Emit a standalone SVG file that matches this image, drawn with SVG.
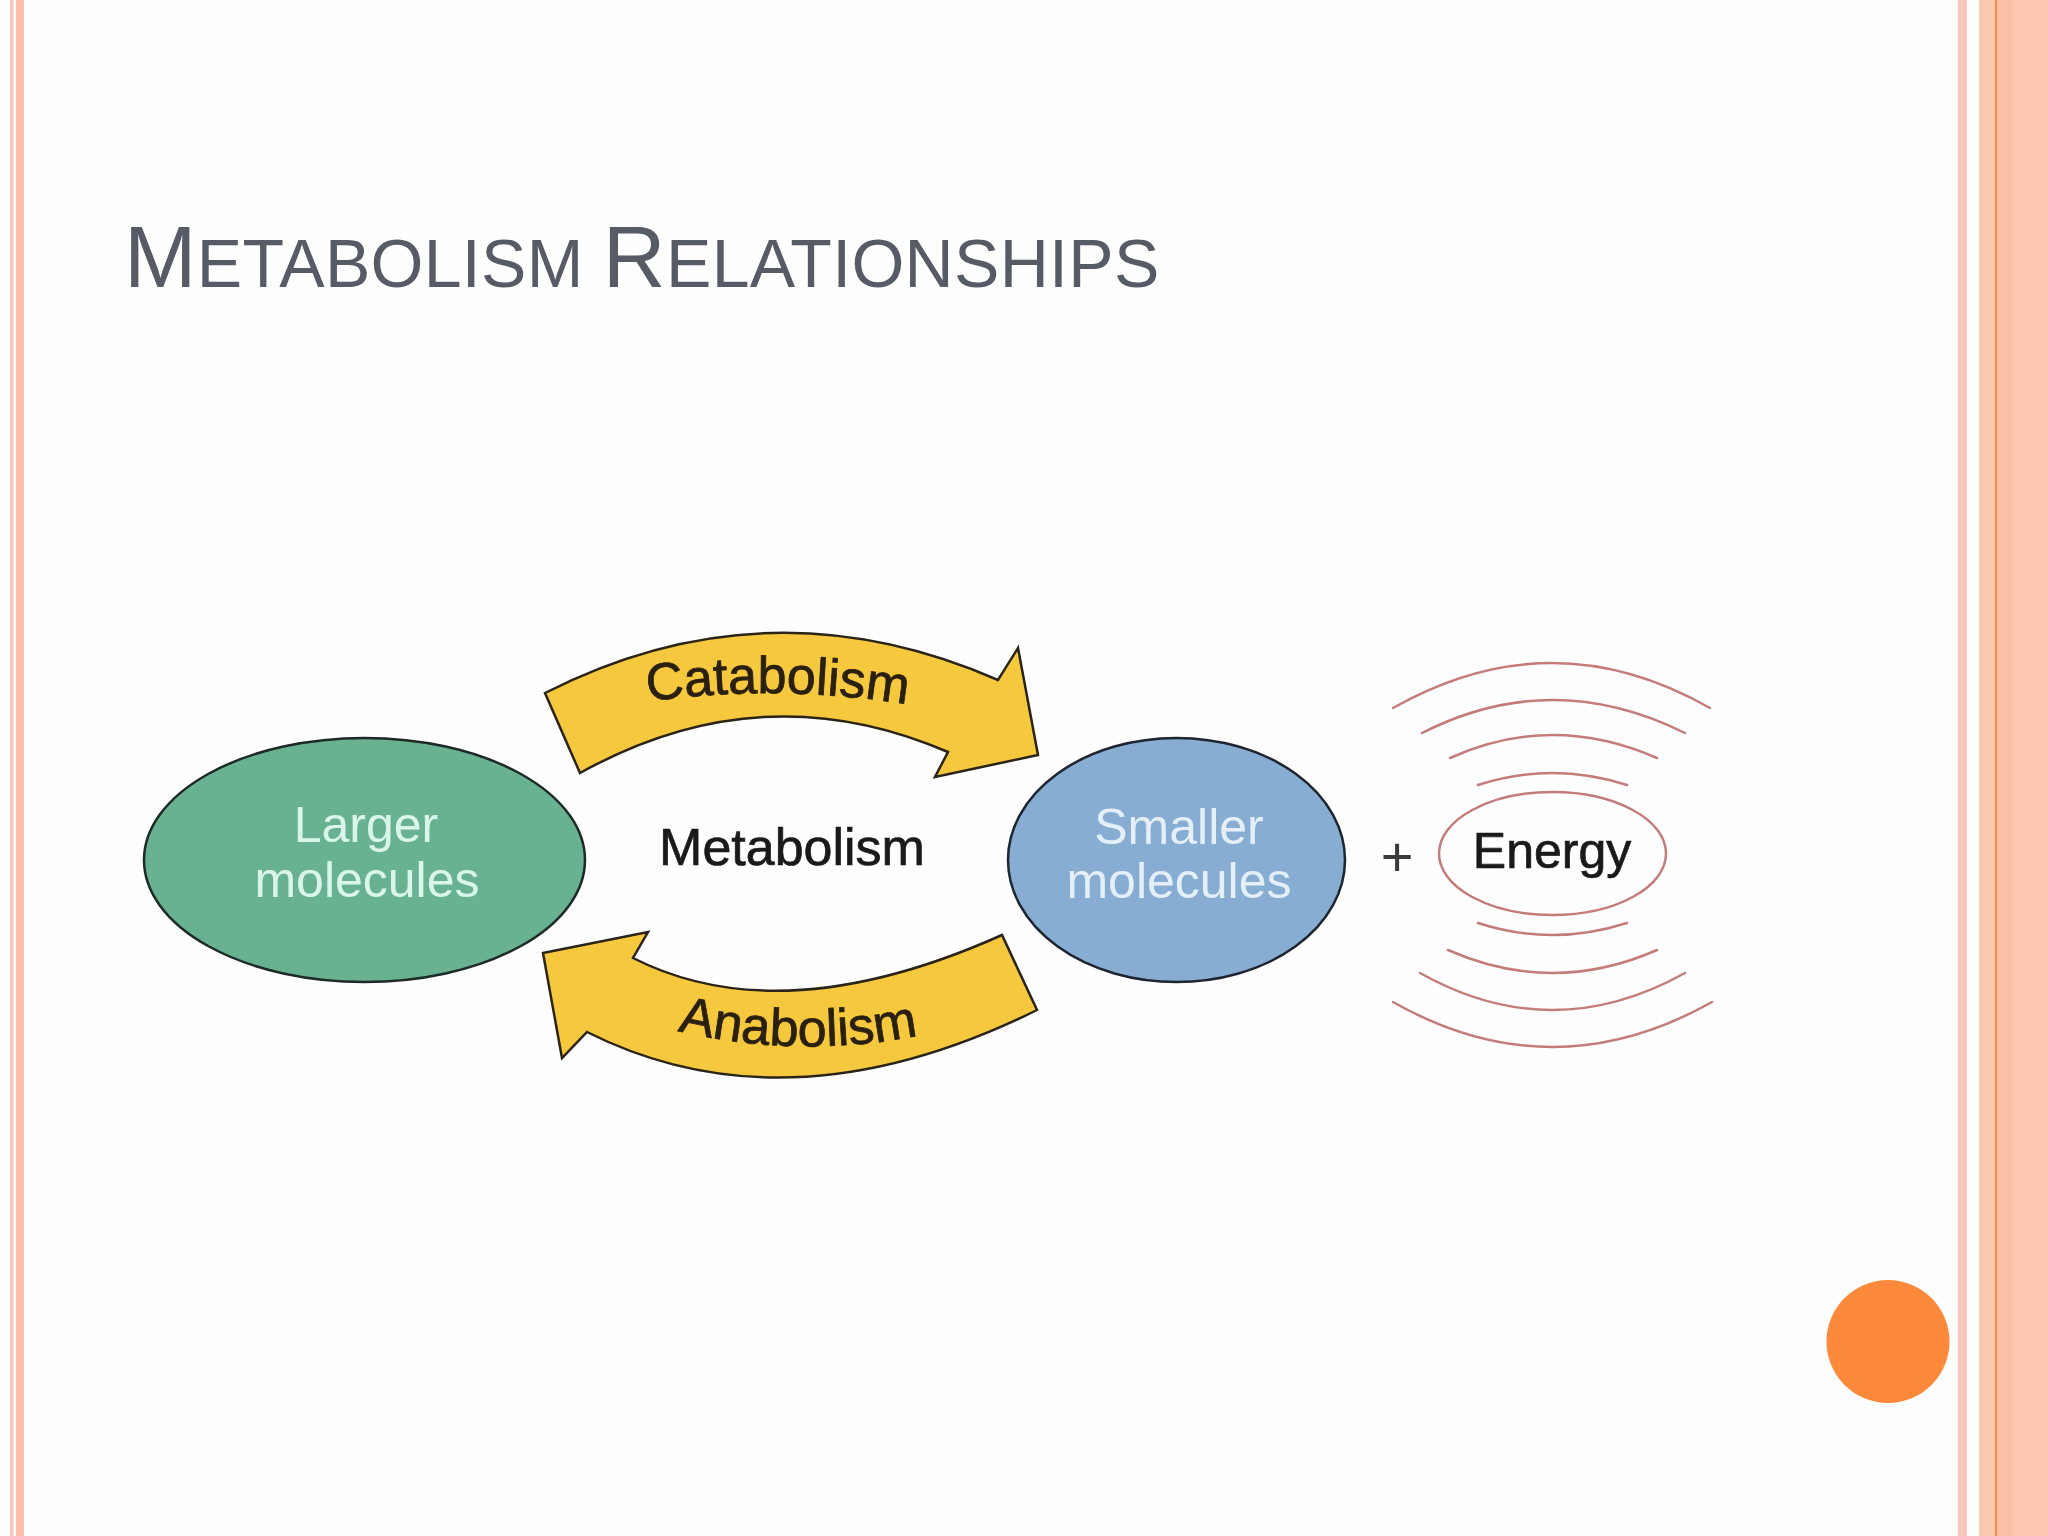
<svg xmlns="http://www.w3.org/2000/svg" width="2048" height="1536" viewBox="0 0 2048 1536">
  <style>
    .lbl { font-family: "Liberation Sans", Arial, sans-serif; }
    .node-text { font-size: 50px; text-anchor: middle; }
    .dark { fill: #1a1a1a; stroke: #1a1a1a; stroke-width: 0.7; }
    .arrow { fill: #f6c83e; stroke: #2a2418; stroke-width: 2.5; stroke-linejoin: miter; }
    .arrow-text { font-size: 52px; fill: #2a2010; stroke: #2a2010; stroke-width: 0.8; }
    .wave { fill: none; stroke: #c47c7a; stroke-width: 2.5; stroke-linecap: round; }
  </style>
  <defs>
    <path id="cataPath" d="M 638,703 Q 775,682 917,706"/>
    <path id="anaPath" d="M 666,1028 Q 800,1062 930,1033"/>
  </defs>

  <!-- background and border -->
  <rect x="0" y="0" width="2048" height="1536" fill="#fefefe"/>
  <g id="border">
    <rect x="10" y="0" width="3.5" height="1536" fill="#f9c9c0"/>
    <rect x="16" y="0" width="8" height="1536" fill="#fcc0a8"/>
    <rect x="1958" y="0" width="9" height="1536" fill="#fbc6bb"/>
    <rect x="1979" y="0" width="16" height="1536" fill="#fcc8b0"/>
    <rect x="1995" y="0" width="2.5" height="1536" fill="#f98a40"/>
    <rect x="1997.5" y="0" width="15" height="1536" fill="#fbc1a8"/>
    <rect x="2012" y="0" width="36" height="1536" fill="#fdc6ae"/>
  </g>

  <!-- title -->
  <text id="title" class="lbl" x="124" y="287" fill="#565b66" font-size="68" letter-spacing="0.3"><tspan font-size="87">M</tspan>ETABOLISM <tspan font-size="87">R</tspan>ELATIONSHIPS</text>

  <!-- connectors (curved arrows) -->
  <g id="connectors">
    <g id="catabolism">
      <path class="arrow" d="M 580,773 L 545,693 Q 768,579.5 998,680 L 1018,648 L 1038,755 L 935,777 L 948,752 Q 762,671.5 580,773 Z"/>
      <text class="lbl arrow-text"><textPath href="#cataPath" startOffset="50%" text-anchor="middle">Catabolism</textPath></text>
    </g>
    <g id="anabolism">
      <path class="arrow" d="M 543,953 L 648,932 L 633,958 Q 782,1033.5 1002,935 L 1037,1010 Q 788,1133 587,1032 L 562,1058 Z"/>
      <text class="lbl arrow-text"><textPath href="#anaPath" startOffset="50%" text-anchor="middle">Anabolism</textPath></text>
    </g>
  </g>

  <!-- nodes -->
  <g id="larger-molecules">
    <ellipse cx="364.5" cy="860" rx="220.5" ry="122" fill="#68b292" stroke="#1e2a26" stroke-width="2.5"/>
    <text class="lbl node-text" x="366" y="842" fill="#daf6ea">Larger</text>
    <text class="lbl node-text" x="367" y="897" fill="#daf6ea">molecules</text>
  </g>

  <g id="metabolism">
    <text class="lbl dark" x="792" y="865" font-size="52" text-anchor="middle">Metabolism</text>
  </g>

  <g id="smaller-molecules">
    <ellipse cx="1176.5" cy="860" rx="168.5" ry="122" fill="#88add3" stroke="#1e2430" stroke-width="2.5"/>
    <text class="lbl node-text" x="1179" y="844" fill="#e4eff9">Smaller</text>
    <text class="lbl node-text" x="1179" y="898" fill="#e4eff9">molecules</text>
  </g>

  <g id="plus">
    <text class="lbl" x="1397" y="876" font-size="56" text-anchor="middle" fill="#3a3a3a">+</text>
  </g>

  <g id="energy">
    <path class="wave" d="M 1393,708 Q 1552,618 1710,708"/>
    <path class="wave" d="M 1422,733 Q 1552,667 1685,733"/>
    <path class="wave" d="M 1450,758 Q 1552,712 1657,758"/>
    <path class="wave" d="M 1478,785 Q 1552,761 1627,785"/>
    <ellipse cx="1552.5" cy="853.5" rx="113.5" ry="61.5" fill="#fefefe" stroke="#c47c7a" stroke-width="2.5"/>
    <text class="lbl dark" x="1552" y="868" font-size="50" text-anchor="middle">Energy</text>
    <path class="wave" d="M 1478,923 Q 1552,947 1627,923"/>
    <path class="wave" d="M 1448,950 Q 1552,996 1657,950"/>
    <path class="wave" d="M 1420,973 Q 1552,1047 1685,973"/>
    <path class="wave" d="M 1393,1002 Q 1552,1092 1712,1002"/>
  </g>

  <!-- decorative orange dot -->
  <circle id="dot" cx="1888" cy="1341.5" r="61.5" fill="#fd8a3a"/>
</svg>
